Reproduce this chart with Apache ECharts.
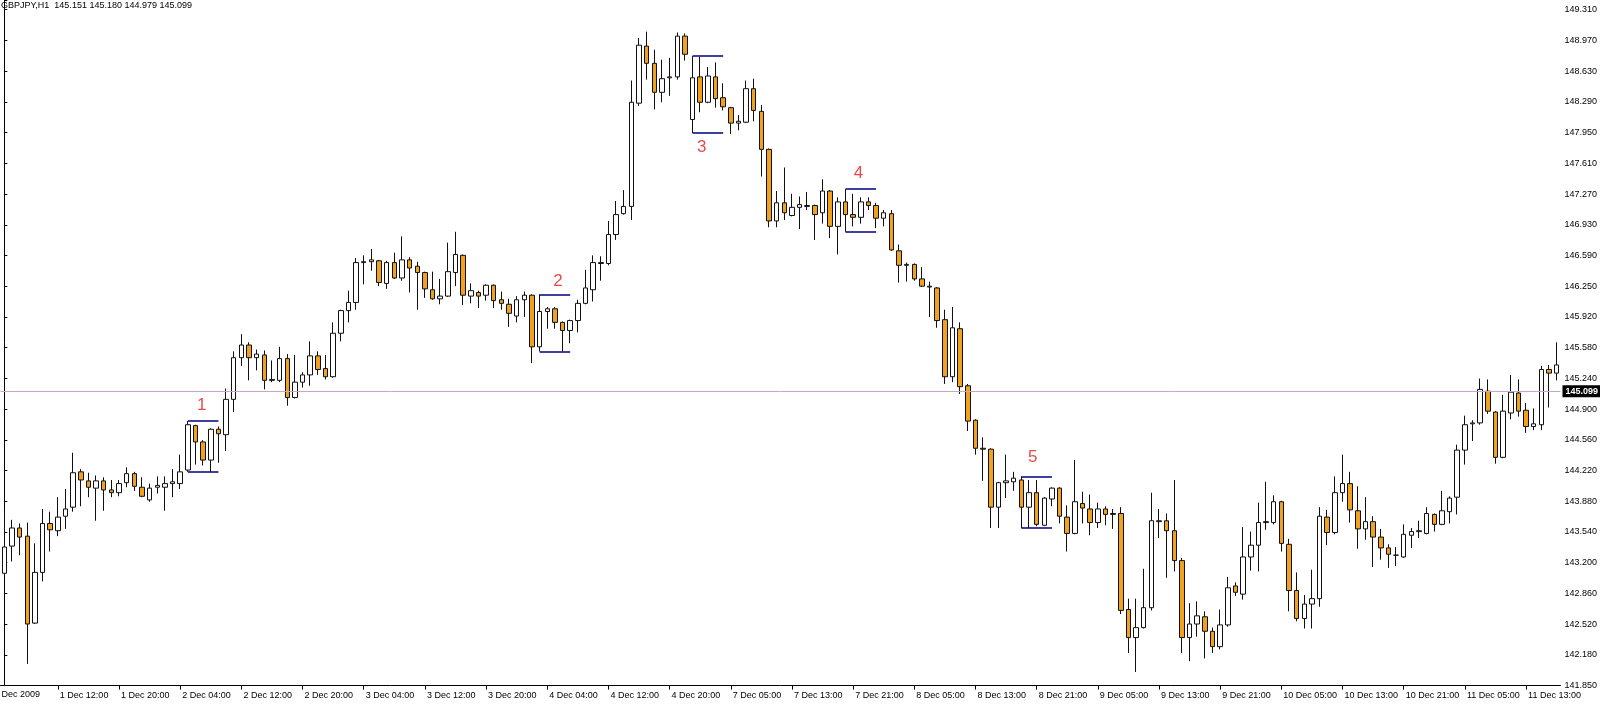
<!DOCTYPE html>
<html><head><meta charset="utf-8">
<script src="https://cdn.jsdelivr.net/npm/echarts@6/dist/echarts.min.js"></script>
<style>html,body{margin:0;padding:0;background:#fff}#c{width:1600px;height:704px}</style>
</head><body><div id="c"></div>
<script>
// ---- title / last bar ----
const symbolName = 'GBPJPY,H1';
const lastBar = [145.151, 145.180, 144.979, 145.099]; // O H L C

// ---- trading days and first hour of each day ----
const dayNames = ['1 Dec', '2 Dec', '3 Dec', '4 Dec', '7 Dec', '8 Dec', '9 Dec', '10 Dec', '11 Dec'];
const firstHour = [5, 0, 0, 0, 0, 0, 0, 0, 0];

// ---- hourly candles per day: [open, close, low, high] ----
const dec01 = [
[143.09,143.38,143.07,143.79],[143.39,143.59,143.22,143.68],[143.59,143.49,143.29,143.64],[143.50,142.53,142.09,143.65],
[142.54,143.10,142.53,143.42],[143.10,143.64,143.00,143.80],[143.64,143.57,143.33,143.77],[143.56,143.71,143.50,143.93],
[143.72,143.80,143.58,144.02],[143.82,144.20,143.77,144.42],[144.21,144.12,143.83,144.24],[144.11,144.04,143.93,144.20],
[144.03,144.11,143.67,144.17],[144.11,144.01,143.78,144.15],[144.01,143.98,143.93,144.12],[143.98,144.08,143.94,144.12],
[144.09,144.19,144.04,144.26],[144.19,144.05,144.00,144.21],[144.04,143.94,143.93,144.15]];
const dec02 = [
[143.90,144.03,143.88,144.08],[144.04,144.06,143.97,144.16],[144.04,144.08,143.78,144.16],[144.08,144.10,143.93,144.24],
[144.08,144.21,144.02,144.40],[144.23,144.73,144.21,144.77],[144.72,144.54,144.29,144.73],[144.54,144.34,144.28,144.56],
[144.34,144.68,144.21,144.69],[144.68,144.63,144.31,144.71],[144.62,145.01,144.44,145.13],[145.01,145.47,144.87,145.54],
[145.47,145.61,145.38,145.73],[145.61,145.47,145.22,145.64],[145.47,145.51,145.33,145.56],[145.50,145.22,145.12,145.55],
[145.22,145.23,145.20,145.44],[145.22,145.46,145.20,145.59],[145.46,145.03,144.94,145.51],[145.03,145.20,145.02,145.50],
[145.20,145.28,145.14,145.31],[145.28,145.49,145.16,145.65],[145.49,145.34,145.28,145.54],[145.35,145.26,145.23,145.50]];
const dec03 = [
[145.26,145.74,145.25,145.86],[145.74,145.99,145.65,146.00],[145.99,146.08,145.86,146.21],[146.08,146.52,146.00,146.57],
[146.52,146.53,146.28,146.60],[146.53,146.55,146.43,146.67],[146.54,146.30,146.26,146.55],[146.29,146.52,146.23,146.54],
[146.52,146.35,146.34,146.63],[146.35,146.55,146.32,146.81],[146.55,146.46,146.19,146.58],[146.48,146.41,146.00,146.53],
[146.41,146.23,146.13,146.42],[146.22,146.12,146.11,146.42],[146.12,146.15,146.06,146.34],[146.15,146.42,146.14,146.74],
[146.41,146.61,146.26,146.86],[146.60,146.16,146.05,146.61],[146.15,146.21,146.07,146.29],[146.19,146.15,146.02,146.21],
[146.16,146.27,146.10,146.28],[146.27,146.10,146.02,146.28],[146.11,146.07,146.00,146.20],[146.06,145.96,145.81,146.12]];
const dec04 = [
[145.93,146.11,145.86,146.15],[146.11,146.16,145.92,146.20],[146.16,145.59,145.41,146.17],[145.59,145.98,145.54,146.17],
[145.98,146.01,145.79,146.03],[146.01,145.86,145.79,146.03],[145.86,145.77,145.54,145.87],[145.77,145.88,145.63,145.89],
[145.88,146.07,145.75,146.11],[146.07,146.24,146.06,146.44],[146.22,146.52,146.09,146.60],[146.51,146.52,146.32,146.59],
[146.51,146.83,146.49,146.98],[146.83,147.05,146.77,147.20],[147.06,147.14,147.05,147.32],[147.14,148.29,146.99,148.53],
[148.28,148.92,148.25,149.00],[148.91,148.72,148.54,149.07],[148.72,148.40,148.21,148.87],[148.40,148.55,148.29,148.76],
[148.56,148.57,148.36,148.78],[148.57,149.02,148.54,149.06],[149.02,148.82,148.75,149.05]];
const dec07 = [
[148.10,148.56,147.95,148.80],[148.57,148.29,148.18,148.79],[148.29,148.58,148.28,148.68],[148.57,148.33,148.23,148.73],
[148.34,148.24,148.20,148.50],[148.23,148.06,147.94,148.24],[148.06,148.08,147.98,148.15],[148.07,148.44,148.06,148.53],
[148.44,148.20,148.08,148.55],[148.19,147.77,147.47,148.26],[147.77,146.98,146.91,147.78],[146.98,147.18,146.91,147.31],
[147.18,147.07,146.99,147.57],[147.04,147.13,147.03,147.28],[147.13,147.16,146.89,147.25],[147.14,147.15,147.10,147.30],
[147.15,147.05,146.77,147.16],[147.07,147.31,146.95,147.44],[147.31,146.92,146.79,147.32],[146.92,147.19,146.61,147.24],
[147.19,147.05,146.86,147.33],[147.05,147.02,146.92,147.28],[147.02,147.19,146.95,147.24],[147.19,147.15,147.10,147.24]];
const dec08 = [
[147.15,147.01,146.90,147.18],[147.01,147.07,146.92,147.10],[147.06,146.66,146.65,147.10],[146.65,146.49,146.30,146.72],
[146.49,146.50,146.31,146.52],[146.50,146.34,146.32,146.51],[146.34,146.26,146.25,146.47],[146.25,146.26,145.92,146.31],
[146.24,145.88,145.80,146.25],[145.89,145.26,145.18,146.00],[145.26,145.80,145.20,146.03],[145.79,145.15,145.07,145.86],
[145.16,144.77,144.66,145.18],[144.78,144.47,144.40,144.79],[144.47,144.46,144.11,144.59],[144.46,143.82,143.59,144.47],
[143.82,144.09,143.59,144.10],[144.09,144.11,143.92,144.40],[144.10,144.14,144.00,144.21],[144.12,143.82,143.59,144.16],
[143.82,143.98,143.59,144.12],[143.98,143.63,143.61,144.12],[143.62,143.92,143.61,143.93],[143.91,144.03,143.83,144.04]];
const dec09 = [
[144.03,143.72,143.64,144.04],[143.71,143.53,143.33,143.84],[143.53,143.88,143.52,144.34],[143.86,143.81,143.64,143.99],
[143.80,143.65,143.51,143.96],[143.65,143.80,143.59,143.87],[143.80,143.74,143.62,143.83],[143.74,143.75,143.58,143.80],
[143.75,142.68,142.64,143.82],[142.69,142.38,142.21,142.81],[142.38,142.49,142.00,142.81],[142.49,142.71,142.48,143.14],
[142.71,143.67,142.68,143.98],[143.66,143.67,143.48,143.80],[143.67,143.56,143.04,143.75],[143.56,143.23,143.11,144.12],
[143.23,142.38,142.21,143.26],[142.38,142.53,142.12,142.76],[142.53,142.62,142.39,142.78],[142.61,142.45,142.15,142.67],
[142.45,142.28,142.21,142.49],[142.28,142.52,142.25,142.69],[142.52,142.93,142.50,143.05],[142.95,142.88,142.84,142.99]];
const dec10 = [
[142.86,143.27,142.80,143.60],[143.27,143.40,143.12,143.55],[143.40,143.65,143.11,143.87],[143.65,143.66,143.57,144.10],
[143.65,143.88,143.63,143.95],[143.88,143.42,143.33,143.89],[143.41,142.90,142.67,143.47],[142.90,142.59,142.56,143.10],
[142.59,142.75,142.48,142.85],[142.75,142.81,142.48,143.13],[142.81,143.72,142.72,143.82],[143.71,143.54,143.40,143.79],
[143.54,143.98,143.52,144.16],[143.98,144.08,143.88,144.40],[144.08,143.79,143.65,144.21],[143.78,143.58,143.36,144.05],
[143.58,143.66,143.46,143.93],[143.66,143.49,143.16,143.72],[143.49,143.37,143.24,143.58],[143.37,143.30,143.15,143.41],
[143.29,143.29,143.17,143.38],[143.27,143.52,143.26,143.63],[143.51,143.55,143.37,143.59],[143.55,143.56,143.48,143.67]];
const dec11 = [
[143.53,143.75,143.52,143.82],[143.74,143.63,143.55,143.75],[143.63,143.78,143.62,144.00],[143.77,143.92,143.64,143.94],
[143.93,144.45,143.74,144.51],[144.45,144.73,144.29,144.83],[144.74,144.75,144.55,144.78],[144.75,145.12,144.73,145.24],
[145.10,144.88,144.85,145.23],[144.87,144.37,144.30,144.88],[144.37,144.88,144.36,145.06],[144.86,145.09,144.79,145.28],
[145.08,144.88,144.82,145.23],[144.89,144.71,144.64,144.97],[144.71,144.74,144.67,144.91],[144.73,145.34,144.67,145.38],
[145.34,145.30,144.92,145.39],[145.30,145.39,145.22,145.64]];

// ---- price axis ----
const yTickLabels = ['141.850','142.180','142.520','142.860','143.200','143.540','143.880','144.220','144.560','144.900',
  '145.240','145.580','145.920','146.250','146.590','146.930','147.270','147.610','147.950','148.290','148.630','148.970','149.310'];
const yMin = 141.85, yMax = 149.419, yStep = 0.33917;
const yearLabel = '1 Dec 2009';

// ---- marked inside-bar patterns: index of mother bar, span in bars ----
const patternStarts = [24, 70, 90, 110, 133];
const patternSpan = 4;
const patternNames = ['1', '2', '3', '4', '5'];
const patternLabelPos = [[25.8, 144.94], [72.4, 146.31], [91.2, 147.79], [111.7, 147.51], [134.5, 144.37]];

// ---- build ----
const dayBars = [dec01, dec02, dec03, dec04, dec07, dec08, dec09, dec10, dec11];
const categories = [], ohlc = [];
dayBars.forEach((arr, d) => arr.forEach((b, k) => {
  const h = firstHour[d] + k;
  categories.push(dayNames[d] + ' ' + (h < 10 ? '0' : '') + h + ':00');
  ohlc.push(b);
}));
const n = ohlc.length;
const tickEvery = (i) => i >= 7 && (i - 7) % 8 === 0;

const boxLines = [];
patternStarts.forEach(m => {
  const hi = ohlc[m][3], lo = ohlc[m][2];
  boxLines.push({coords: [[m, hi], [m + patternSpan, hi]]});
  boxLines.push({coords: [[m, lo], [m + patternSpan, lo]]});
});
const labelData = patternNames.map((t, i) => ({name: t, value: patternLabelPos[i]}));

const FONT = 'Liberation Sans';
const chart = echarts.init(document.getElementById('c'), null, {renderer: 'canvas'});
chart.setOption({
  animation: false,
  backgroundColor: '#ffffff',
  grid: {left: 0.5, right: 37, top: 0, bottom: 18.4, containLabel: false},
  graphic: [
    {type: 'text', x: 1, y: 1, style: {text: symbolName + '  ' + lastBar.map(v => v.toFixed(3)).join(' '), fontSize: 9, fontFamily: FONT, fill: '#000'}},
    {type: 'text', x: -6, y: 690, style: {text: yearLabel, fontSize: 9, fontFamily: FONT, fill: '#000'}}
  ],
  xAxis: [{
    type: 'category', data: categories, boundaryGap: true,
    axisLine: {show: true, lineStyle: {color: '#000', width: 1}},
    axisTick: {show: true, alignWithLabel: true, interval: tickEvery, length: 4, lineStyle: {color: '#000'}},
    axisLabel: {interval: tickEvery, align: 'left', fontSize: 9, fontFamily: FONT, color: '#000', margin: 5, padding: [0, 0, 0, 2]},
    splitLine: {show: false}
  }, {
    type: 'value', min: -0.5, max: n - 0.5, show: false
  }],
  yAxis: {
    type: 'value', position: 'right', min: yMin, max: yMax, interval: yStep,
    axisLine: {show: true, lineStyle: {color: '#000', width: 1}},
    axisTick: {show: true, length: 3, lineStyle: {color: '#000'}},
    splitLine: {show: false},
    axisLabel: {fontSize: 9, fontFamily: FONT, color: '#000', margin: 4,
      formatter: (v) => {
        const k = Math.round((v - yMin) / yStep);
        return (Math.abs(v - (yMin + k * yStep)) < 0.005 && yTickLabels[k]) ? yTickLabels[k] : '';
      }}
  },
  series: [{
    type: 'candlestick', xAxisIndex: 0, yAxisIndex: 0, data: ohlc, barWidth: 5,
    itemStyle: {color: '#ffffff', color0: '#f0a21e', borderColor: '#111', borderColor0: '#111', borderColorDoji: '#111', borderWidth: 1},
    emphasis: {disabled: true},
    markLine: {
      silent: true, symbol: ['none', 'none'], animation: false,
      data: [{yAxis: lastBar[3]}],
      lineStyle: {color: '#c8a8c0', width: 1, type: 'solid'},
      label: {show: true, position: 'end', formatter: lastBar[3].toFixed(3), color: '#fff', backgroundColor: '#000',
        padding: [2, 3, 1, 3], fontSize: 9, fontFamily: FONT, fontWeight: 'bold', distance: 2}
    }
  }, {
    type: 'lines', coordinateSystem: 'cartesian2d', xAxisIndex: 1, yAxisIndex: 0, polyline: false,
    data: boxLines, lineStyle: {color: '#000080', width: 1.5, opacity: 1}, silent: true, z: 5
  }, {
    type: 'scatter', xAxisIndex: 1, yAxisIndex: 0, data: labelData, symbolSize: 0, silent: true,
    label: {show: true, position: 'inside', formatter: (p) => p.name, color: '#e01b1b', fontSize: 17, fontFamily: FONT}
  }]
});
</script>
</body></html>
